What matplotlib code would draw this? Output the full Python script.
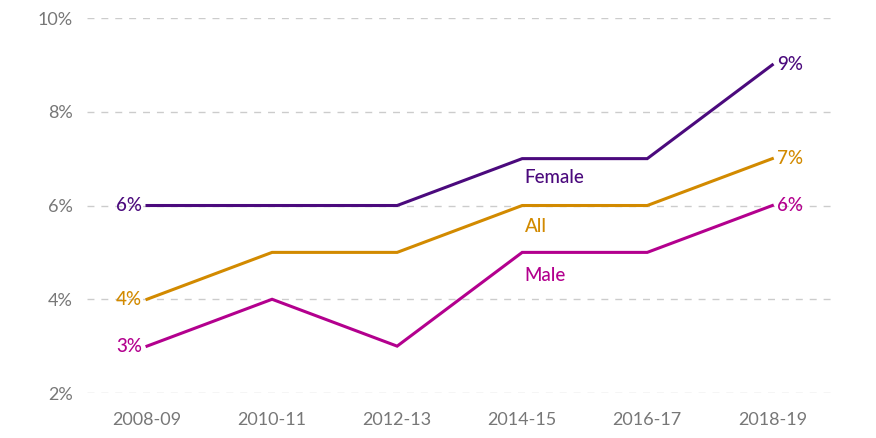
import matplotlib.pyplot as plt
from matplotlib.ticker import FuncFormatter

years = ['2008-09', '2010-11', '2012-13', '2014-15', '2016-17', '2018-19']
female = [6, 6, 6, 7, 7, 9]
all_ = [4, 5, 5, 6, 6, 7]
male = [3, 4, 3, 5, 5, 6]

series = [
    ('Female', female, '#4b0a7d', 0.4),
    ('All', all_, '#d28a00', 0.45),
    ('Male', male, '#b3008e', 0.5),
]

plt.rcParams['font.family'] = ['Lato', 'DejaVu Sans']

fig = plt.figure(figsize=(8.76, 4.38), dpi=100)
ax = fig.add_axes([0.0993, 0.1027, 0.8537, 0.8562])

x = list(range(len(years)))
for name, vals, color, off in series:
    ax.plot(x, vals, color=color, linewidth=2.2, solid_joinstyle='miter', zorder=3)
    ax.text(x[0] - 0.04, vals[0], f'{vals[0]}%', color=color, fontsize=13.5,
            ha='right', va='center', fontweight='medium', zorder=4)
    ax.text(x[-1] + 0.04, vals[-1], f'{vals[-1]}%', color=color, fontsize=13.5,
            ha='left', va='center', fontweight='medium', zorder=4)
    ax.text(x[3] + 0.02, vals[3] - off, name, color=color, fontsize=13.5,
            ha='left', va='center', fontweight='medium', zorder=4)

ax.set_xlim(-0.48, 5.5)
ax.set_ylim(2, 10)
ax.set_yticks([2, 4, 6, 8, 10])
ax.yaxis.set_major_formatter(FuncFormatter(lambda v, p: f'{v:.0f}%'))
ax.set_xticks(x)
ax.set_xticklabels(years)
ax.tick_params(axis='both', length=0, colors='#777777', labelsize=13)
ax.tick_params(axis='x', pad=14)
ax.tick_params(axis='y', pad=10)
ax.grid(axis='y', color='#cccccc', linestyle=(0, (5, 5)), linewidth=1)
for s in ax.spines.values():
    s.set_visible(False)

fig.savefig('out.png', dpi=100)
